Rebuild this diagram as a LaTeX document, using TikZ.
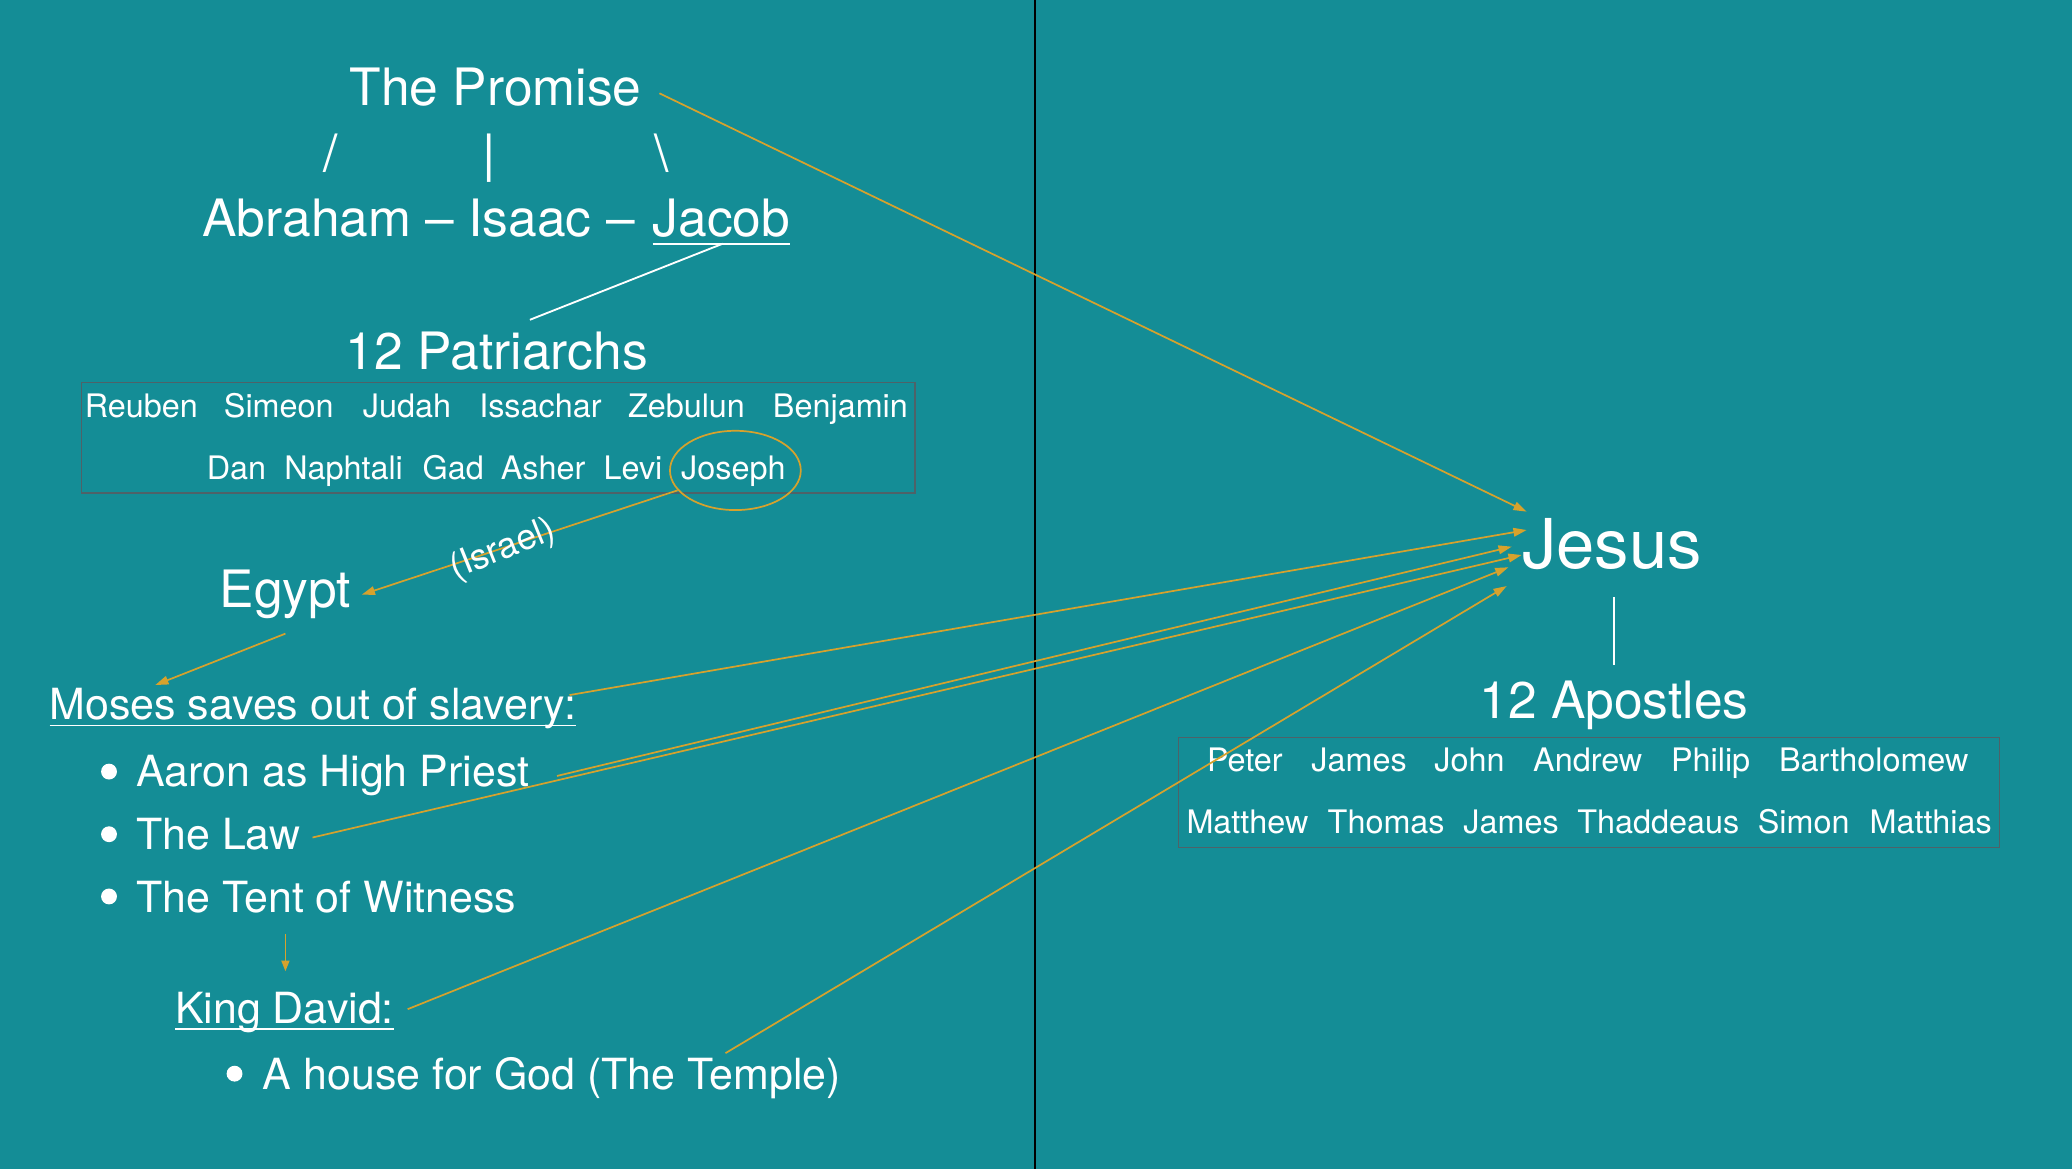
\documentclass[tikz,border=0pt]{standalone}
\usepackage{fontspec}
\setmainfont{TeX Gyre Heros}
\usetikzlibrary{arrows.meta,shapes.geometric}
\definecolor{bg}{RGB}{20,141,150}
\definecolor{gold}{RGB}{214,162,45}
\definecolor{boxline}{RGB}{78,98,104}
\begin{document}
\begin{tikzpicture}[x=1pt,y=-1pt,
  txt/.style={text=white, inner sep=0pt, outer sep=0pt},
  big/.style={txt, font=\fontsize{39}{44}\selectfont},
  mid/.style={txt, font=\fontsize{32.5}{38}\selectfont},
  small/.style={txt, font=\fontsize{24.5}{28}\selectfont},
  huge/.style={txt, font=\fontsize{52}{60}\selectfont},
  goldarrow/.style={draw=gold, line width=1.3pt, -{Triangle[length=10pt,width=6.5pt]}},
  whiteline/.style={draw=white, line width=1.4pt},
  namebox/.style={draw=boxline, line width=0.9pt, inner sep=0pt, anchor=north west},
  dot/.style={circle, fill=white, inner sep=0pt, minimum size=12pt},
  ring/.style={draw=gold, line width=1.3pt, ellipse, inner sep=0pt},
]
\fill[bg] (0,0) rectangle (1568,885);
\useasboundingbox (0,0) rectangle (1568,885);
% divider
\coordinate (divtop) at (783,0);
\coordinate (divbot) at (783,885);
\draw[black, line width=1.5pt] (divtop) -- (divbot);

% ---- left side texts
\node[big, anchor=base] (promise) at (375,80) {The Promise};
\node[big, anchor=base] (s1) at (250,130) {/};
\node[big, anchor=base] (s2) at (370,130) {|};
\node[big, anchor=base] (s3) at (501,130) {\textbackslash};
\node[big, anchor=base west] (abr) at (153,179) {Abraham – Isaac –};
\node[big, anchor=base east] (jacob) at (598,179) {Jacob};
\draw[whiteline] ([yshift=-5.4pt]jacob.base west) -- ([yshift=-5.4pt]jacob.base east);
\node[big, anchor=base] (pat) at (376,279.5) {12 Patriarchs};
\coordinate (jacobfoot) at (547,184.4);
\coordinate (pattop) at (401,242);
\draw[whiteline] (jacobfoot) -- (pattop);

\node[namebox, minimum width=631pt, minimum height=83.6pt] (pbox) at (61,289) {};
\foreach \nm/\cx [count=\i] in {Reuben/107, Simeon/211, Judah/308, Issachar/409, Zebulun/519.5, Benjamin/636}
  \node[small, anchor=base] (pa\i) at (\cx,316) {\nm};
\foreach \nm/\cx [count=\i] in {Dan/179, Naphtali/260, Gad/343, Asher/411, Levi/479}
  \node[small, anchor=base] (pb\i) at (\cx,362.8) {\nm};
\node[small, anchor=base] (joseph) at (555,362.8) {Joseph};
\node[ring, minimum width=99pt, minimum height=60pt] (josring) at (556.5,356) {};

\node[big, anchor=base] (egypt) at (216,460) {Egypt};
\draw[goldarrow] (josring.199) -- ([xshift=8pt]egypt.east);
\node[txt, font=\fontsize{27}{30}\selectfont, rotate=22] (israel) at (380.7,416.2) {(Israel)};

\node[mid, anchor=base west] (moses) at (37.5,544.3) {Moses saves out of slavery:};
\draw[whiteline, line width=1.3pt] ([yshift=-4.7pt]moses.base west) -- ([yshift=-4.7pt]moses.base east);
\coordinate (mosestip) at (117.5,518.4);
\draw[goldarrow] ([yshift=-11pt]egypt.south) -- (mosestip);

\node[dot] (b1) at (82.5,583.9) {};
\node[mid, anchor=base west] (aaron) at (103,595.5) {Aaron as High Priest};
\node[dot] (b2) at (82.5,631.3) {};
\node[mid, anchor=base west] (law) at (103,643.1) {The Law};
\node[dot] (b3) at (82.5,678.4) {};
\node[mid, anchor=base west] (tent) at (103,690.6) {The Tent of Witness};
\coordinate (tentfoot) at (216,706.7);
\coordinate (davidtop) at (216,735);
\draw[goldarrow, -{Triangle[length=8pt,width=6pt]}] (tentfoot) -- (davidtop);

\node[mid, anchor=base west] (david) at (132.5,774.4) {King David:};
\draw[whiteline, line width=1.3pt] ([yshift=-4.3pt]david.base west) -- ([yshift=-4.3pt]david.base east);
\node[dot] (b4) at (177.5,812.5) {};
\node[mid, anchor=base west] (temple) at (199,824.4) {A house for God (The Temple)};

% ---- right side
\node[huge, anchor=base] (jesus) at (1220,430) {Jesus};
\coordinate (jesusfoot) at (1221.5,451.6);
\coordinate (apotop) at (1221.5,503.3);
\draw[white, line width=1.1pt] (jesusfoot) -- (apotop);
\node[big, anchor=base] (apo) at (1221.5,543.7) {12 Apostles};
\node[namebox, minimum width=621pt, minimum height=83.3pt] (abox) at (891.5,557.5) {};
\foreach \nm/\cx [count=\i] in {Peter/942, James/1028.5, John/1112, Andrew/1201.5, Philip/1294.5, Bartholomew/1418}
  \node[small, anchor=base] (aa\i) at (\cx,584) {\nm};
\foreach \nm/\cx [count=\i] in {Matthew/944, Thomas/1049, James/1143.5, Thaddeaus/1255, Simon/1365, Matthias/1461}
  \node[small, anchor=base] (ab\i) at (\cx,630.7) {\nm};

% ---- gold arrows into Jesus
\coordinate (f1) at (499,70.6);   \coordinate (t1) at (1155.3,387.2);
\coordinate (f2) at (431,526);    \coordinate (t2) at (1155.3,401.1);
\coordinate (f3) at (421.5,587.2);\coordinate (t3) at (1144,413.7);
\coordinate (f4) at (236.5,633.8);\coordinate (t4) at (1151.5,420);
\coordinate (f5) at (308.5,763.7);\coordinate (t5) at (1141.5,429.3);
\coordinate (f6) at (549,797);    \coordinate (t6) at (1140.2,443.5);
\foreach \k in {1,...,6} \draw[goldarrow] (f\k) -- (t\k);
\end{tikzpicture}
\end{document}
